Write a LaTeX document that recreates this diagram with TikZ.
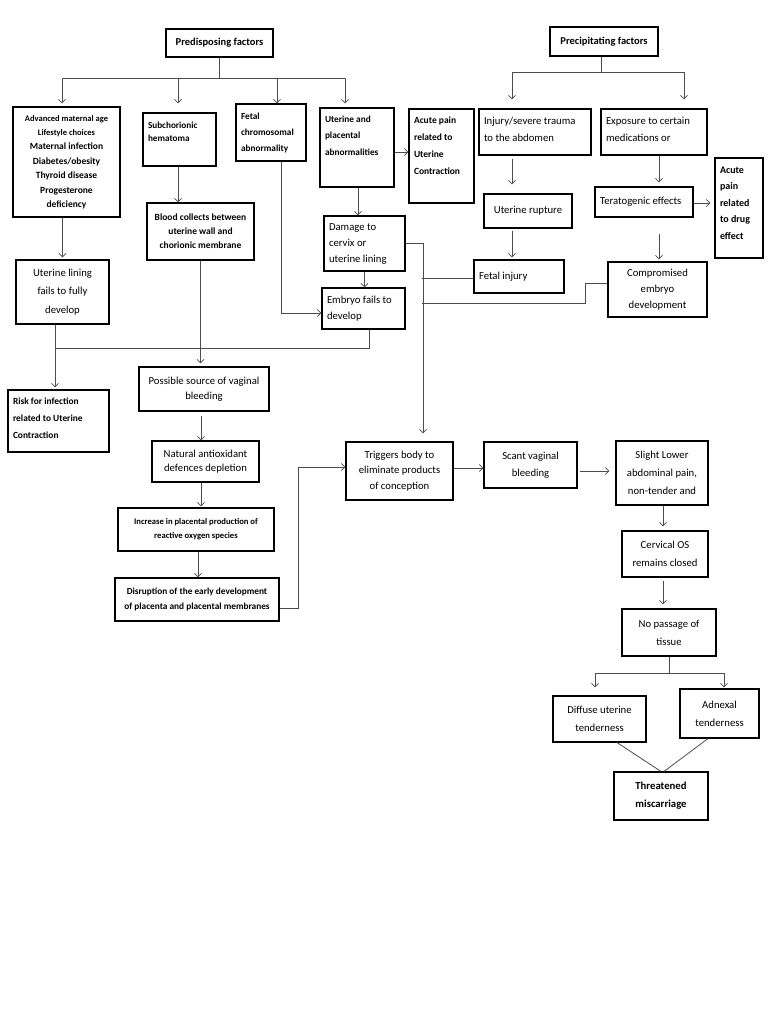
\documentclass[tikz,border=0pt]{standalone}
\usepackage{fontspec}
\setmainfont{Carlito}
\usetikzlibrary{arrows.meta}

\begin{document}
\begin{tikzpicture}[x=1pt,y=-1pt,
	box/.style={draw=black,line width=1.1pt,inner sep=2pt,inner xsep=5pt,align=center,font=\fontsize{10.7}{17}\selectfont},
	lbox/.style={box,align=flush left},
	fs/.style 2 args={font=\fontsize{10.7}{#2}\selectfont},
	bfs/.style 2 args={font=\bfseries\fontsize{#1}{#2}\selectfont},
	sz/.style 2 args={minimum width=#1pt,minimum height=#2pt},
	tp/.style 2 args={text height=#1pt,text depth=#2pt},
	con/.style={draw=black!70,line width=0.8pt},
	arr/.style={con,-{Straight Barb[length=3.5pt,width=7pt]}}]
	\fill[white] (0,0) rectangle (768,1024);
	\useasboundingbox (0,0) rectangle (768,1024);
	\path	(219.5,43)	node (pre)	[box,sz={107}{28},bfs={10.5}{12}]	{Predisposing factors}
		(604,41.5)	node (prec)	[box,sz={108}{29},bfs={10.5}{12}]	{Precipitating factors}
		(66.5,162)	node (adv)	[box,sz={107}{110},bfs={9.5}{14.4}]	{\fontsize{8.5}{9}\selectfont Advanced maternal age\\\fontsize{8.5}{9}\selectfont Lifestyle choices\\Maternal infection\\Diabetes/obesity\\Thyroid disease\\Progesterone\\deficiency}
		(179.5,139.5)	node (sub)	[lbox,sz={73}{53},text width=63pt,bfs={9.2}{13.5},tp={13.5}{35.5}]	{Subchorionic\\hematoma}
		(271,132.5)	node (fetal)	[lbox,sz={70}{57},text width=60pt,bfs={9.3}{16}]	{Fetal\\chromosomal\\abnormality}
		(357,147.5)	node (utpl)	[lbox,sz={74}{79},text width=64pt,bfs={9.3}{16.5},tp={12.5}{62.5}]	{Uterine and\\placental\\abnormalities}
		(441.5,156)	node (acu)	[lbox,sz={65}{94},text width=55pt,bfs={9.5}{17},tp={12.5}{77.5}]	{Acute pain\\related to\\Uterine\\Contraction}
		(535,132)	node (inj)	[lbox,sz={112}{46},text width=102pt,tp={14}{28}]	{Injury/severe trauma\\to the abdomen}
		(654,132)	node (exp)	[lbox,sz={106}{46},text width=96pt,tp={14}{28}]	{Exposure to certain\\medications or}
		(200.5,231.5)	node (blood)	[box,sz={107}{57},bfs={9.5}{14}]	{Blood collects between\\uterine wall and\\chorionic membrane}
		(62.5,292)	node (ulin)	[box,sz={93}{64},fs={}{18.5}]	{Uterine lining\\fails to fully\\develop}
		(364.5,243.5)	node (dam)	[lbox,sz={81}{55},text width=71pt,fs={}{16}]	{Damage to\\cervix or\\uterine lining}
		(363.5,308.5)	node (emb)	[lbox,sz={83}{41},text width=73pt,fs={}{16}]	{Embryo fails to\\develop}
		(528,211)	node (rup)	[box,sz={88}{34}]	{Uterine rupture}
		(519,276.5)	node (fin)	[lbox,sz={90}{33},text width=80pt]	{Fetal injury}
		(644,202)	node (ter)	[lbox,sz={98}{30},text width=88pt]	{Teratogenic effects}
		(739,208)	node (acd)	[lbox,sz={48}{100},text width=38pt,bfs={10}{16.5},tp={13.5}{82.5}]	{Acute\\pain\\related\\to drug\\effect}
		(657.5,289.5)	node (comp)	[box,sz={99}{55},fs={}{16}]	{Compromised\\embryo\\development}
		(58.5,421)	node (risk)	[lbox,sz={101}{62},text width=91pt,bfs={9.4}{17},tp={12}{46}]	{Risk for infection\\related to Uterine\\Contraction}
		(204,389)	node (pos)	[box,sz={130}{44},fs={}{15}]	{Possible source of vaginal\\bleeding}
		(205.5,461.5)	node (nat)	[box,sz={107}{41},fs={}{14.5}]	{Natural antioxidant\\defences depletion}
		(196,529.5)	node (inc)	[box,sz={156}{43},bfs={8.6}{14}]	{Increase in placental production of\\reactive oxygen species}
		(197,599.5)	node (dis)	[box,sz={164}{43},bfs={9.3}{15}]	{Disruption of the early development\\of placenta and placental membranes}
		(399.5,471)	node (trig)	[box,sz={107}{58},fs={}{15.5}]	{Triggers body to\\eliminate products\\of conception}
		(530.5,465)	node (scant)	[box,sz={93}{46}]	{Scant vaginal\\bleeding}
		(662,473)	node (sli)	[box,sz={92}{64},fs={}{18}]	{Slight Lower\\abdominal pain,\\non-tender and}
		(665,554)	node (cer)	[box,sz={86}{46},fs={}{18.5}]	{Cervical OS\\remains closed}
		(669,632.5)	node (nop)	[box,sz={94}{47},fs={}{18}]	{No passage of\\tissue}
		(599.5,719)	node (dif)	[box,sz={93}{46},fs={}{18.5}]	{Diffuse uterine\\tenderness}
		(719.5,713.5)	node (adn)	[box,sz={79}{49},fs={}{18}]	{Adnexal\\tenderness}
		(661,796)	node (thr)	[box,sz={94}{48},bfs={10.7}{18}]	{Threatened\\miscarriage};
	\draw[con] (pre.south) -- ++(0,21) coordinate (pb);
	\draw[arr,shorten >=3pt] (pb) -| ([xshift=-4.5]adv.north);
	\draw[arr,shorten >=9pt] (pb) -| ([xshift=-1.5]sub.north);
	\draw[arr] (pb) -| ([xshift=6]fetal.north);
	\draw[arr,shorten >=4pt] (pb) -| ([xshift=-12]utpl.north);
	\draw[con] ([xshift=-3]prec.south) -- ++(0,16) coordinate (qb);
	\draw[arr,shorten >=9pt] (qb) -| ([xshift=-23]inj.north);
	\draw[arr,shorten >=9pt] (qb) -| ([xshift=30]exp.north);
	\draw[arr] ([yshift=-4.5]utpl.east) -- ([yshift=-4.5]utpl.east -| acu.west);
	\draw[arr] ([xshift=-1.5]sub.south) -- ([xshift=-1.5]sub.south |- blood.north);
	\draw[arr,shorten >=2pt] (adv.south -| ulin.north) -- (ulin.north);
	\draw[arr] ([xshift=1]utpl.south) -- ([xshift=1]utpl.south |- dam.north);
	\draw[arr] (dam.south) -- (dam.south |- emb.north);
	\draw[arr] ([xshift=10]fetal.south) |- ([yshift=-4.5]emb.west);
	\draw[arr,shorten >=3pt] (blood.south) -- (blood.south |- pos.north);
	\draw[arr,shorten >=2pt] ([xshift=-7.5]ulin.south) -- ([xshift=-7.5]ulin.south |- risk.north);
	\draw[con] ([xshift=5.5]emb.south) |- ([xshift=-7.5,yshift=-24]ulin.south);
	\draw[arr,shorten >=8pt] (dam.east) -| ([xshift=23.5]trig.north);
	\draw[con] ([yshift=-1.5]fin.west) -- ++(-51,0);
	\draw[con] ([yshift=6.5]comp.west) -- ++(-22,0) -- ++(0,20) -- ++(-163,0);
	\draw[arr,shorten <=4pt] ([xshift=-3]pos.south) -- ([xshift=-3]pos.south |- nat.north);
	\draw[arr,shorten >=1pt] ([xshift=-4.5]nat.south) -- ([xshift=-4.5]nat.south |- inc.north);
	\draw[arr] ([xshift=2]inc.south) -- ([xshift=2]inc.south |- dis.north);
	\draw[arr] ([yshift=-8.5]dis.east) -- ++(19,0) |- ([yshift=4]trig.west);
	\draw[arr] ([yshift=3]trig.east) -- ([yshift=3]trig.east -| scant.west);
	\draw[arr,shorten <=2pt,shorten >=6pt] ([yshift=-6]scant.east) -- ([yshift=-6]scant.east -| sli.west);
	\draw[arr,shorten >=4pt] ([xshift=1]sli.south) -- ([xshift=1]sli.south |- cer.north);
	\draw[arr,shorten <=3pt,shorten >=4pt] ([xshift=-2]cer.south) -- ([xshift=-2]cer.south |- nop.north);
	\draw[con] (nop.south) -- ++(0,17) coordinate (nb);
	\draw[arr,shorten >=8pt] (nb) -| ([xshift=-4.5]dif.north);
	\draw[arr,shorten >=1pt] (nb) -| ([xshift=4.5]adn.north);
	\draw[con] ([xshift=17.5]dif.south) -- (thr.north);
	\draw[con] ([xshift=-11.5]adn.south) -- ([xshift=3]thr.north);
	\draw[arr,shorten <=3pt,shorten >=9pt] ([xshift=-23]inj.south) -- ([xshift=-23]inj.south |- rup.north);
	\draw[arr,shorten <=2pt,shorten >=2pt] ([xshift=-16]rup.south) -- ([xshift=-16]rup.south |- fin.north);
	\draw[arr,shorten >=4pt] ([xshift=5]exp.south) -- ([xshift=5]exp.south |- ter.north);
	\draw[arr,shorten >=4pt] ([yshift=-1]ter.east) -- ([yshift=-1]ter.east -| acd.west);
	\draw[arr,shorten <=16pt,shorten >=2pt] ([xshift=15]ter.south) -- ([xshift=15]ter.south |- comp.north);
\end{tikzpicture}
\end{document}
